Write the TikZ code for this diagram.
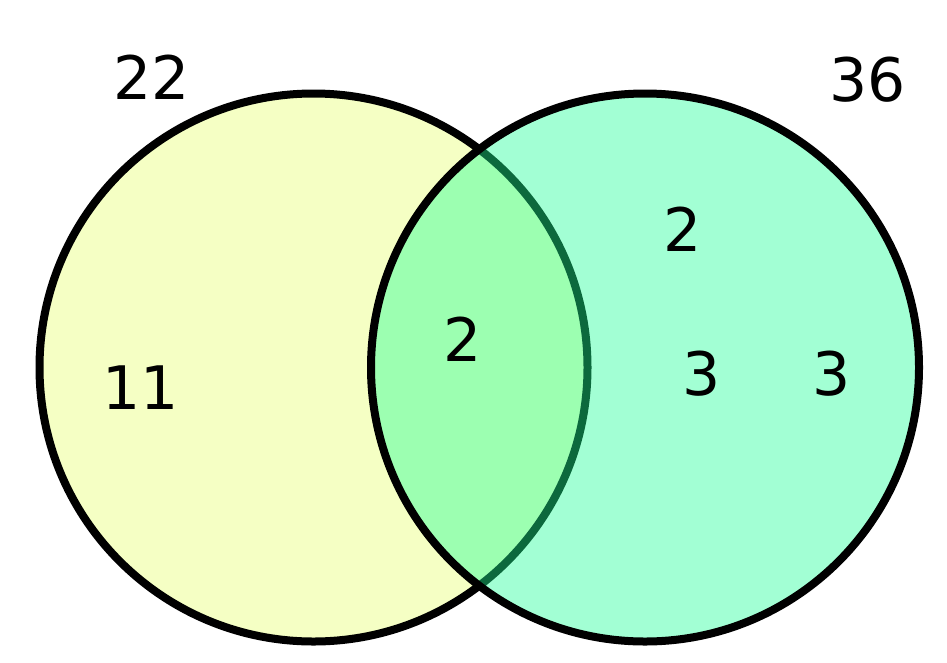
\documentclass[tikz,border=0pt]{standalone}
\usepackage{fontspec}
\setmainfont{DejaVu Sans}
\definecolor{vnyellow}{RGB}{245,255,196}
\definecolor{vngreen}{RGB}{30,255,150}
\usetikzlibrary{positioning}

\begin{document}
\begin{tikzpicture}[x=1pt,y=-1pt,
    every node/.style={font=\fontsize{60}{60}\selectfont},
    setline/.style={line width=8pt,draw=black}]
  \useasboundingbox (0,0) rectangle (947,662);
  %% left set
  \draw[setline,fill=vnyellow] (313.5,367.5) circle[radius=274];
  %% right set (see-through)
  \draw[setline,fill=vngreen,fill opacity=0.41] (645,367.5) circle[radius=274];
  %% set totals
  \node (totA) at (152,77) {22};
  \node (totB) at (868,80) {36};
  %% region counts
  \node (onlyA) at (141,388) {11};
  \node (both) at (463,339) {2};
  \node (onlyB1) at (683,229) {2};
  \node (onlyB2) at (702,374) {3};
  \node (onlyB3) at (832,374) {3};
\end{tikzpicture}
\end{document}
